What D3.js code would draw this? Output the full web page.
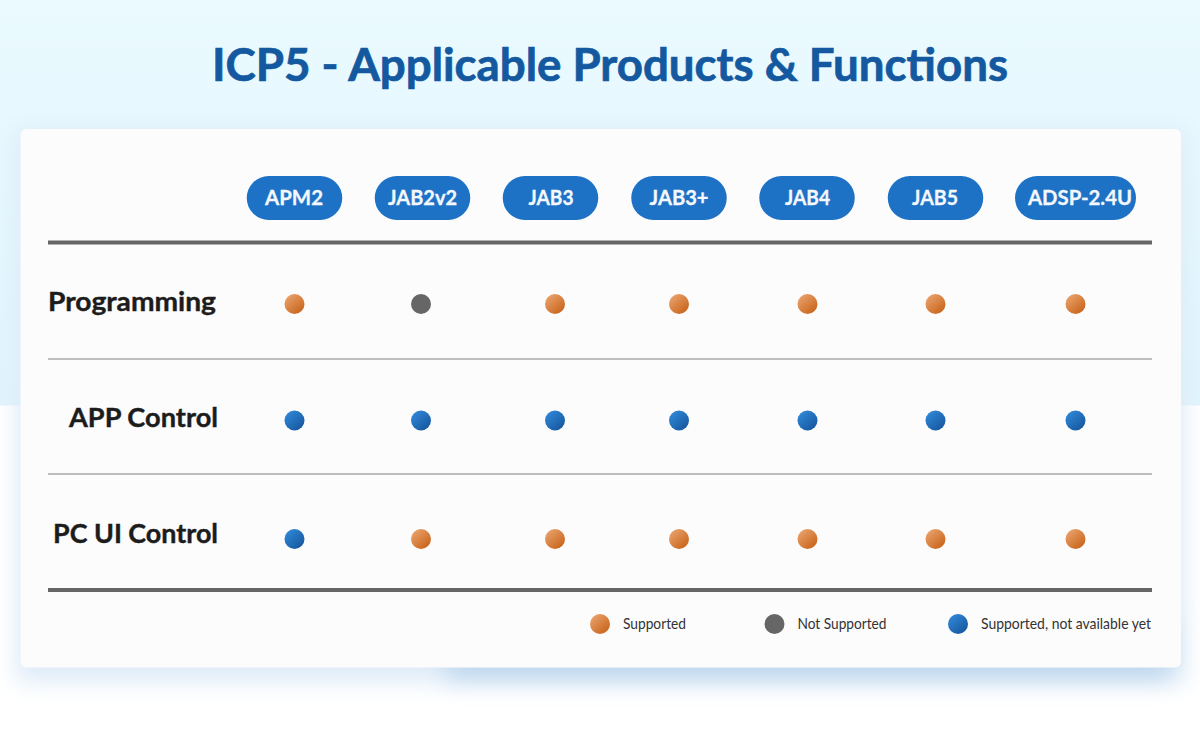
<!DOCTYPE html>
<html>
<head>
<meta charset="utf-8">
<script src="https://cdn.jsdelivr.net/npm/d3@7"></script>
<style>
  html, body { margin: 0; padding: 0; background: #fff; }
  svg { display: block; }
  text { font-family: Lato, "Open Sans", sans-serif; }
</style>
</head>
<body>
<div id="chart"></div>
<script>
// -------- Data --------
const products = ["APM2", "JAB2v2", "JAB3", "JAB3+", "JAB4", "JAB5", "ADSP-2.4U"];
const functions = ["Programming", "APP Control", "PC UI Control"];

// s = supported, n = not supported, p = supported, not available yet
const programming = ["s", "n", "s", "s", "s", "s", "s"];
const appControl = ["p", "p", "p", "p", "p", "p", "p"];
const pcUiControl = ["p", "s", "s", "s", "s", "s", "s"];
const statusRows = [programming, appControl, pcUiControl];

const statusKeys = ["s", "n", "p"];
const statusLabels = ["Supported", "Not Supported", "Supported, not available yet"];

// -------- Layout --------
const width = 1200;
const height = 742;

const pillX = d3.scaleOrdinal().domain(products).range([294.5, 422.5, 550.5, 679, 807, 935.5, 1075.5]);
const pillTextX = d3.scaleOrdinal().domain(products).range([294, 422.5, 551, 679, 807.5, 935, 1080]);
const dotX = d3.scaleOrdinal().domain(products).range([294.5, 421, 555, 679, 807.5, 935.5, 1075.5]);
const rowY = d3.scaleOrdinal().domain(functions).range([304, 420.5, 539]);
const labelY = d3.scaleOrdinal().domain(functions).range([311, 427, 543]);
const labelRight = d3.scaleOrdinal().domain(functions).range([216, 218, 218]);
const legendDot = d3.scaleOrdinal().domain(statusKeys).range([600, 774.5, 958]);

const svg = d3.select("#chart").append("svg")
  .attr("width", width)
  .attr("height", height)
  .attr("viewBox", `0 0 ${width} ${height}`);

const defs = svg.append("defs");

function addGradient(id, from, to) {
  const g = defs.append("linearGradient")
    .attr("id", id)
    .attr("x1", "15%").attr("y1", "10%")
    .attr("x2", "85%").attr("y2", "90%");
  g.append("stop").attr("offset", "0%").attr("stop-color", from);
  g.append("stop").attr("offset", "100%").attr("stop-color", to);
}
addGradient("dot-s", "#e8a069", "#c9651c");
addGradient("dot-n", "#666666", "#666666");
addGradient("dot-p", "#2f86d6", "#17589f");

const bandFill = defs.append("linearGradient")
  .attr("id", "band")
  .attr("x1", 0).attr("y1", 0).attr("x2", 0).attr("y2", 1);
bandFill.append("stop").attr("offset", "0%").attr("stop-color", "#eafaff");
bandFill.append("stop").attr("offset", "100%").attr("stop-color", "#e0f4fd");

function addBlur(id, dev) {
  defs.append("filter")
    .attr("id", id)
    .attr("filterUnits", "userSpaceOnUse")
    .attr("x", 0).attr("y", 0)
    .attr("width", width).attr("height", height)
    .append("feGaussianBlur").attr("stdDeviation", dev);
}
addBlur("soft", 12);
addBlur("softWide", 11);

// -------- Background --------
svg.append("rect")
  .attr("width", width).attr("height", 405.5)
  .attr("fill", "url(#band)");

// Card shadows
svg.append("rect")
  .attr("x", 16).attr("y", 130).attr("width", 1169).attr("height", 552)
  .attr("fill", "#deebf8")
  .attr("filter", "url(#softWide)");
svg.append("rect")
  .attr("x", 446).attr("y", 620).attr("width", 724).attr("height", 58)
  .attr("fill", "#bdd6ed")
  .attr("filter", "url(#soft)");

// Card
svg.append("rect")
  .attr("x", 20.5).attr("y", 129).attr("width", 1160.5).attr("height", 538.5)
  .attr("rx", 6)
  .attr("fill", "#fcfcfc");

// -------- Title --------
svg.append("text")
  .attr("x", 610).attr("y", 81)
  .attr("text-anchor", "middle")
  .attr("font-size", 45)
  .attr("font-weight", 700)
  .attr("fill", "#14599f")
  .attr("stroke", "#14599f")
  .attr("stroke-width", 0.7)
  .attr("textLength", 796)
  .attr("lengthAdjust", "spacingAndGlyphs")
  .text("ICP5 - Applicable Products & Functions");

// -------- Rules --------
const rules = [
  { y: 242.5, w: 4, c: "#666666" },
  { y: 359, w: 2, c: "#bdbdbd" },
  { y: 474, w: 2, c: "#bdbdbd" },
  { y: 590, w: 4, c: "#666666" }
];
svg.append("g").selectAll("line")
  .data(rules)
  .join("line")
  .attr("x1", 48).attr("x2", 1152)
  .attr("y1", d => d.y).attr("y2", d => d.y)
  .attr("stroke", d => d.c)
  .attr("stroke-width", d => d.w);

// -------- Product pills --------
const pillW = name => name === "ADSP-2.4U" ? 121 : 95.5;

svg.append("g").selectAll("rect")
  .data(products)
  .join("rect")
  .attr("x", d => pillX(d) - pillW(d) / 2)
  .attr("y", 176)
  .attr("width", pillW)
  .attr("height", 44)
  .attr("rx", 22)
  .attr("fill", "#1e72c6");

svg.append("g").selectAll("text")
  .data(products)
  .join("text")
  .attr("x", d => pillTextX(d))
  .attr("y", 205)
  .attr("text-anchor", "middle")
  .attr("font-size", 20.5)
  .attr("font-weight", 700)
  .attr("fill", "#f4f8fc")
  .attr("stroke", "#f4f8fc")
  .attr("stroke-width", 0.3)
  .attr("textLength", d => ({ "APM2": 58, "JAB2v2": 69, "JAB3": 45, "JAB3+": 59, "JAB4": 45, "JAB5": 46, "ADSP-2.4U": 104 })[d])
  .attr("lengthAdjust", "spacingAndGlyphs")
  .text(d => d);

// -------- Row labels --------
svg.append("g").selectAll("text")
  .data(functions)
  .join("text")
  .attr("x", d => labelRight(d))
  .attr("y", d => labelY(d))
  .attr("text-anchor", "end")
  .attr("font-size", 27)
  .attr("font-weight", 700)
  .attr("fill", "#1c1c1c")
  .attr("stroke", "#1c1c1c")
  .attr("stroke-width", 0.4)
  .attr("textLength", d => ({ "Programming": 168, "APP Control": 149, "PC UI Control": 165 })[d])
  .attr("lengthAdjust", "spacingAndGlyphs")
  .text(d => d);

// -------- Status dots --------
functions.forEach((fn, i) => {
  svg.append("g").selectAll("circle")
    .data(statusRows[i].map((status, j) => ({ product: products[j], status })))
    .join("circle")
    .attr("cx", d => dotX(d.product))
    .attr("cy", rowY(fn))
    .attr("r", 10)
    .attr("fill", d => `url(#dot-${d.status})`);
});

// -------- Legend --------
const legend = svg.append("g").selectAll("g")
  .data(statusKeys)
  .join("g")
  .attr("transform", d => `translate(${legendDot(d)},624)`);

legend.append("circle")
  .attr("r", 10)
  .attr("fill", d => `url(#dot-${d})`);

legend.append("text")
  .attr("x", 23)
  .attr("y", 5)
  .attr("font-size", 15)
  .attr("fill", "#333333")
  .attr("textLength", (d, i) => [63, 89, 170][i])
  .attr("lengthAdjust", "spacingAndGlyphs")
  .text((d, i) => statusLabels[i]);
</script>
</body>
</html>
